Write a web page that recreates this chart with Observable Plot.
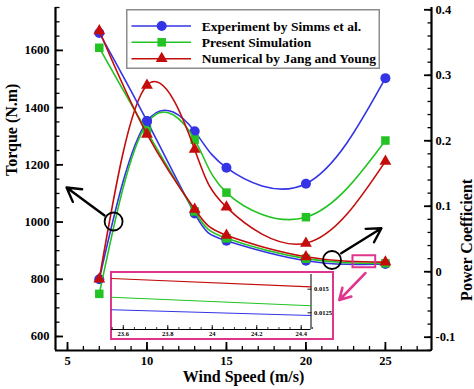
<!DOCTYPE html>
<html><head><meta charset="utf-8">
<script src="https://cdn.jsdelivr.net/npm/d3@7"></script>
<script src="https://cdn.jsdelivr.net/npm/@observablehq/plot@0.6"></script>
<style>
body{margin:0;background:#fff}
#wrap{position:relative;width:474px;height:389px;overflow:hidden;background:#fff}
#wrap > *{position:absolute}
</style></head><body><div id="wrap"></div>
<script>
// ---------- data ----------
const windSpeed = [7, 10, 13, 15, 20, 25];
const torqueExp = [800, 1352, 1317, 1190, 1134, 1503];
const torqueSim = [749, 1345, 1288, 1103, 1017, 1285];
const torqueJY  = [801, 1478, 1254, 1052, 926, 1212];
const cpExp = [0.3646, 0.230, 0.089, 0.0473, 0.0168, 0.0119];
const cpSim = [0.342, 0.214, 0.092, 0.051, 0.020, 0.0128];
const cpJY  = [0.368, 0.210, 0.0953, 0.0556, 0.0229, 0.0147];
const legendLabels = ["Experiment by Simms et al.", "Present Simulation", "Numerical by Jang and Young"];
const xTicks = [5, 10, 15, 20, 25];
const torqueTicks = [600, 800, 1000, 1200, 1400, 1600];
const cpTicks = [-0.1, 0, 0.1, 0.2, 0.3, 0.4];
const cpTickLabels = ["-0.1", "0", "0.1", "0.2", "0.3", "0.4"];
const xTitle = "Wind Speed (m/s)";
const torqueTitle = "Torque (N.m)";
const cpTitle = "Power Coefficient";
// inset (zoom of power coefficient near 24 m/s)
const insetSpeed = [23.547, 24.444];
const insetExp = [0.01282, 0.01221];
const insetSim = [0.01415, 0.01324];
const insetJY  = [0.01613, 0.01525];
const insetXTicks = [23.6, 23.8, 24, 24.2, 24.4];
const insetYTicks = [0.0125, 0.015];
// annotations (data units)
const torqueCircle = [{x: 7.9, y: 1002}];
const torqueArrow = [{x1: 7.33, y1: 1023, x2: 4.94, y2: 1121}];
const cpCircle = [{x: 21.64, y: 0.0179}];
const cpArrow = [{x1: 22.22, y1: 0.0281, x2: 24.75, y2: 0.0663}];
const zoomBox = [{x1: 22.96, x2: 24.39, y1: 0.0061, y2: 0.0244}];
const zoomArrow = [{x1: 23.74, y1: -0.002, x2: 22.10, y2: -0.0432}];

// ---------- styles ----------
const FONT = '"Liberation Serif", Tinos, "Times New Roman", Times, "DejaVu Serif", serif';
const colors = ["#3434e6", "#22c322", "#c40c0c"];
const symbols = ["circle", "square", "triangle"];
const radii = [5, 4.8, 4.4];
const MAGENTA = "#e0358c";
const W = 474, H = 389, ML = 55, MR = 43, MT = 7, MB = 39;
const xDomain = [4.245, 27.9];
const torqueDomain = [551, 1750];
const cpDomain = [-0.1203, 0.4035];

const range = (a, b, s) => d3.range(Math.round((b - a) / s) + 1).map(i => +(a + i * s).toFixed(6));
const xMinor = range(5, 27, 1);
const torqueMinor = range(600, 1750, 50);
const cpMinor = range(-0.12, 0.4, 0.02);
const insetXMinor = range(23.55, 24.44, 0.05);

const rows = vals => windSpeed.map((w, i) => ({w, v: vals[i]}));
const torqueSeries = [torqueExp, torqueSim, torqueJY];
const cpSeries = [cpExp, cpSim, cpJY];

function seriesMarks(list) {
  const m = [];
  list.forEach((vals, i) => {
    m.push(Plot.line(rows(vals), {x: "w", y: "v", stroke: colors[i], strokeWidth: 1.6, curve: "natural"}));
    m.push(Plot.dot(rows(vals), {x: "w", y: "v", symbol: symbols[i], r: radii[i], fill: colors[i], stroke: "none"}));
  });
  return m;
}

const baseStyle = {fontFamily: FONT, fontWeight: "bold", color: "black", background: "transparent", overflow: "visible"};
const wrap = document.getElementById("wrap");

// ---------- torque plot (left axis) ----------
const torquePlot = Plot.plot({
  width: W, height: H, marginLeft: ML, marginRight: MR, marginTop: MT, marginBottom: MB,
  x: {domain: xDomain, label: null},
  y: {domain: torqueDomain, label: null},
  style: baseStyle,
  marks: [
    Plot.axisX(xMinor, {anchor: "bottom", tickSize: -4, tickFormat: () => "", label: null, strokeWidth: 1.3}),
    Plot.axisX(xTicks, {anchor: "bottom", tickSize: -8, tickPadding: 14, fontSize: 12.5, fontFamily: FONT, fontWeight: "bold", label: null, strokeWidth: 1.8, tickFormat: d => String(d)}),
    Plot.axisY(torqueMinor, {anchor: "left", tickSize: -4.5, tickFormat: () => "", label: null, strokeWidth: 1.3}),
    Plot.axisY(torqueTicks, {anchor: "left", tickSize: -8, tickPadding: 14, fontSize: 12.5, fontFamily: FONT, fontWeight: "bold", label: null, strokeWidth: 1.8, tickFormat: d => String(d)}),
    Plot.ruleY([torqueDomain[0]], {strokeWidth: 2.2}),
    Plot.ruleX([xDomain[0]], {strokeWidth: 2.2}),
    Plot.text([xTitle], {text: d => d, frameAnchor: "bottom", dy: 31, fontSize: 16, fontFamily: FONT, fontWeight: "bold"}),
    Plot.text([torqueTitle], {text: d => d, frameAnchor: "left", dx: -44, dy: -3, rotate: -90, fontSize: 16, fontFamily: FONT, fontWeight: "bold"}),
    ...seriesMarks(torqueSeries),
    Plot.dot(torqueCircle, {x: "x", y: "y", r: 9, stroke: "black", strokeWidth: 1.8, fill: "none"}),
    Plot.arrow(torqueArrow, {x1: "x1", y1: "y1", x2: "x2", y2: "y2", stroke: "black", strokeWidth: 2.4, headLength: 11})
  ]
});
wrap.appendChild(torquePlot);
torquePlot.style.left = "0px"; torquePlot.style.top = "0px";

// ---------- power coefficient plot (right axis) ----------
const cpPlot = Plot.plot({
  width: W, height: H, marginLeft: ML, marginRight: MR, marginTop: MT, marginBottom: MB,
  x: {domain: xDomain, label: null, axis: null},
  y: {domain: cpDomain, label: null},
  style: baseStyle,
  marks: [
    Plot.axisY(cpMinor, {anchor: "right", tickSize: -4.5, tickFormat: () => "", label: null, strokeWidth: 1.3}),
    Plot.axisY(cpTicks, {anchor: "right", tickSize: -8, tickPadding: 12, fontSize: 12.5, fontFamily: FONT, fontWeight: "bold", label: null, strokeWidth: 1.8, tickFormat: (d, i) => cpTickLabels[i]}),
    Plot.ruleX([xDomain[1]], {strokeWidth: 2.2}),
    Plot.text([cpTitle], {text: d => d, frameAnchor: "right", dx: 35, dy: 0, rotate: -90, fontSize: 16, fontFamily: FONT, fontWeight: "bold"}),
    ...seriesMarks(cpSeries),
    Plot.dot(cpCircle, {x: "x", y: "y", r: 9, stroke: "black", strokeWidth: 1.8, fill: "none"}),
    Plot.arrow(cpArrow, {x1: "x1", y1: "y1", x2: "x2", y2: "y2", stroke: "black", strokeWidth: 2.4, headLength: 11}),
    Plot.rect(zoomBox, {x1: "x1", x2: "x2", y1: "y1", y2: "y2", stroke: MAGENTA, strokeWidth: 2, fill: "none"}),
    Plot.arrow(zoomArrow, {x1: "x1", y1: "y1", x2: "x2", y2: "y2", stroke: MAGENTA, strokeWidth: 2.6, headLength: 10})
  ]
});
wrap.appendChild(cpPlot);
cpPlot.style.left = "0px"; cpPlot.style.top = "0px";

// ---------- legend ----------
const legend = d3.create("svg").attr("width", 256).attr("height", 62)
  .style("left", "125px").style("top", "8px").style("overflow", "visible");
legend.append("rect").attr("x", 1.75).attr("y", 1.75).attr("width", 252.5).attr("height", 58.5)
  .attr("fill", "white").attr("stroke", "#8c8c8c").attr("stroke-width", 1.5);
const rowY = [18, 34.3, 50.7];
legendLabels.forEach((lab, i) => {
  const g = legend.append("g");
  g.append("line").attr("x1", 6.5).attr("x2", 66).attr("y1", rowY[i]).attr("y2", rowY[i])
    .attr("stroke", colors[i]).attr("stroke-width", 1.6);
  const sym = {circle: d3.symbolCircle, square: d3.symbolSquare, triangle: d3.symbolTriangle}[symbols[i]];
  g.append("path").attr("d", d3.symbol(sym, Math.PI * radii[i] * radii[i])())
    .attr("transform", `translate(36.7,${rowY[i]})`).attr("fill", colors[i]);
  g.append("text").attr("x", 76.7).attr("y", rowY[i]).attr("dy", "0.35em")
    .style("font-family", FONT).style("font-weight", "bold").style("font-size", "13.5px").attr("fill", "black").text(lab);
});
wrap.appendChild(legend.node());

// ---------- inset ----------
const box = document.createElement("div");
Object.assign(box.style, {left: "110px", top: "271px", width: "224px", height: "69px", boxSizing: "border-box",
  border: `2.5px solid ${MAGENTA}`, background: "white"});
wrap.appendChild(box);
const insetRows = vals => insetSpeed.map((w, i) => ({w, v: vals[i]}));
const insetPlot = Plot.plot({
  width: 230, height: 70, marginLeft: 3, marginRight: 27.5, marginTop: 4, marginBottom: 11,
  x: {domain: [23.547, 24.444], label: null},
  y: {domain: [0.010731, 0.016557], label: null},
  style: baseStyle,
  marks: [
    Plot.axisX(insetXMinor, {anchor: "bottom", tickSize: -2, tickFormat: () => "", label: null, strokeWidth: 0.8}),
    Plot.axisX(insetXTicks, {anchor: "bottom", tickSize: -4, tickPadding: 6, fontSize: 6.5, fontFamily: FONT, fontWeight: "bold", label: null, strokeWidth: 0.9, tickFormat: d => String(d)}),
    Plot.axisY(insetYTicks, {anchor: "right", tickSize: -4, tickPadding: 7, fontSize: 6.5, fontFamily: FONT, fontWeight: "bold", label: null, strokeWidth: 0.9, tickFormat: d => String(d)}),
    Plot.ruleY([0.010731], {strokeWidth: 1}),
    Plot.ruleX([24.444], {strokeWidth: 1}),
    Plot.line(insetRows(insetExp), {x: "w", y: "v", stroke: colors[0], strokeWidth: 1.1}),
    Plot.line(insetRows(insetSim), {x: "w", y: "v", stroke: colors[1], strokeWidth: 1.1}),
    Plot.line(insetRows(insetJY), {x: "w", y: "v", stroke: colors[2], strokeWidth: 1.1})
  ]
});
wrap.appendChild(insetPlot);
insetPlot.style.left = "108px"; insetPlot.style.top = "270px";
</script></body></html>
